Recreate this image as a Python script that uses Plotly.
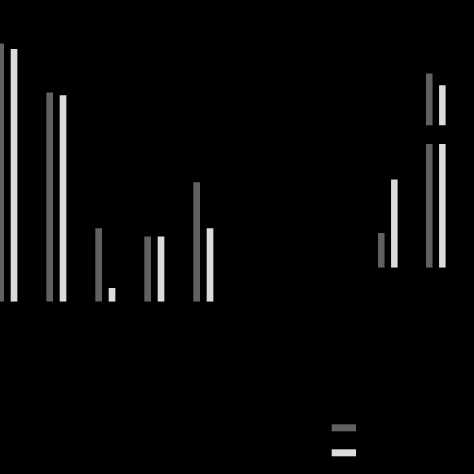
import plotly.graph_objects as go

# left panel: five categories, two series
left_cats = [0, 1, 2, 3, 4]
left_dark = [95, 77, 27, 24, 44]
left_light = [93, 76, 5, 24, 27]

# right panel: two categories, broken y axis
right_cats = [0, 1]
right_dark = [14, 133]
right_light = [35.7, 121]

DARK = '#616161'
LIGHT = '#dcdcdc'
H = 474

def py(px):
    # pixel row -> paper fraction
    return 1 - px / H

fig = go.Figure()

fig.add_trace(go.Bar(x=left_cats, y=left_dark, marker=dict(color=DARK, line=dict(width=0)),
                     xaxis='x', yaxis='y', showlegend=False))
fig.add_trace(go.Bar(x=left_cats, y=left_light, marker=dict(color=LIGHT, line=dict(width=0)),
                     xaxis='x', yaxis='y', showlegend=False))

# right lower part
fig.add_trace(go.Bar(x=right_cats, y=right_dark, marker=dict(color=DARK, line=dict(width=0)),
                     xaxis='x2', yaxis='y2', showlegend=False))
fig.add_trace(go.Bar(x=right_cats, y=right_light, marker=dict(color=LIGHT, line=dict(width=0)),
                     xaxis='x2', yaxis='y2', showlegend=False))
# right upper part
fig.add_trace(go.Bar(x=right_cats, y=right_dark, marker=dict(color=DARK, line=dict(width=0)),
                     xaxis='x3', yaxis='y3', showlegend=False))
fig.add_trace(go.Bar(x=right_cats, y=right_light, marker=dict(color=LIGHT, line=dict(width=0)),
                     xaxis='x3', yaxis='y3', showlegend=False))

hidden = dict(visible=False, showgrid=False, zeroline=False, fixedrange=True)

fig.update_layout(
    width=474, height=474,
    margin=dict(l=0, r=0, t=0, b=0),
    paper_bgcolor='black', plot_bgcolor='black',
    barmode='group', bargap=0.455, bargroupgap=0.5,
    xaxis=dict(domain=[0, 0.5], range=[-0.15, 4.687], anchor='y', **hidden),
    yaxis=dict(domain=[py(301.7), py(30)], range=[0, 100], anchor='x', **hidden),
    xaxis2=dict(domain=[0.75, 1], range=[-0.673, 1.796], anchor='y2', **hidden),
    yaxis2=dict(domain=[py(267.7), py(144)], range=[0, 50], anchor='x2', **hidden),
    xaxis3=dict(domain=[0.75, 1], range=[-0.673, 1.796], anchor='y3', matches='x2', **hidden),
    yaxis3=dict(domain=[py(125.3), py(47)], range=[80, 160], anchor='x3', **hidden),
    showlegend=False,
)

# legend swatches
for y0, col in [(424.3, DARK), (449.3, LIGHT)]:
    fig.add_shape(type='rect', xref='paper', yref='paper',
                  x0=331.7 / 474, x1=356 / 474, y0=py(y0 + 7), y1=py(y0),
                  fillcolor=col, line=dict(width=0))

fig.write_html("out.html", config={'displayModeBar': False},
               post_script="document.body.style.margin='0';document.body.style.background='black';")
